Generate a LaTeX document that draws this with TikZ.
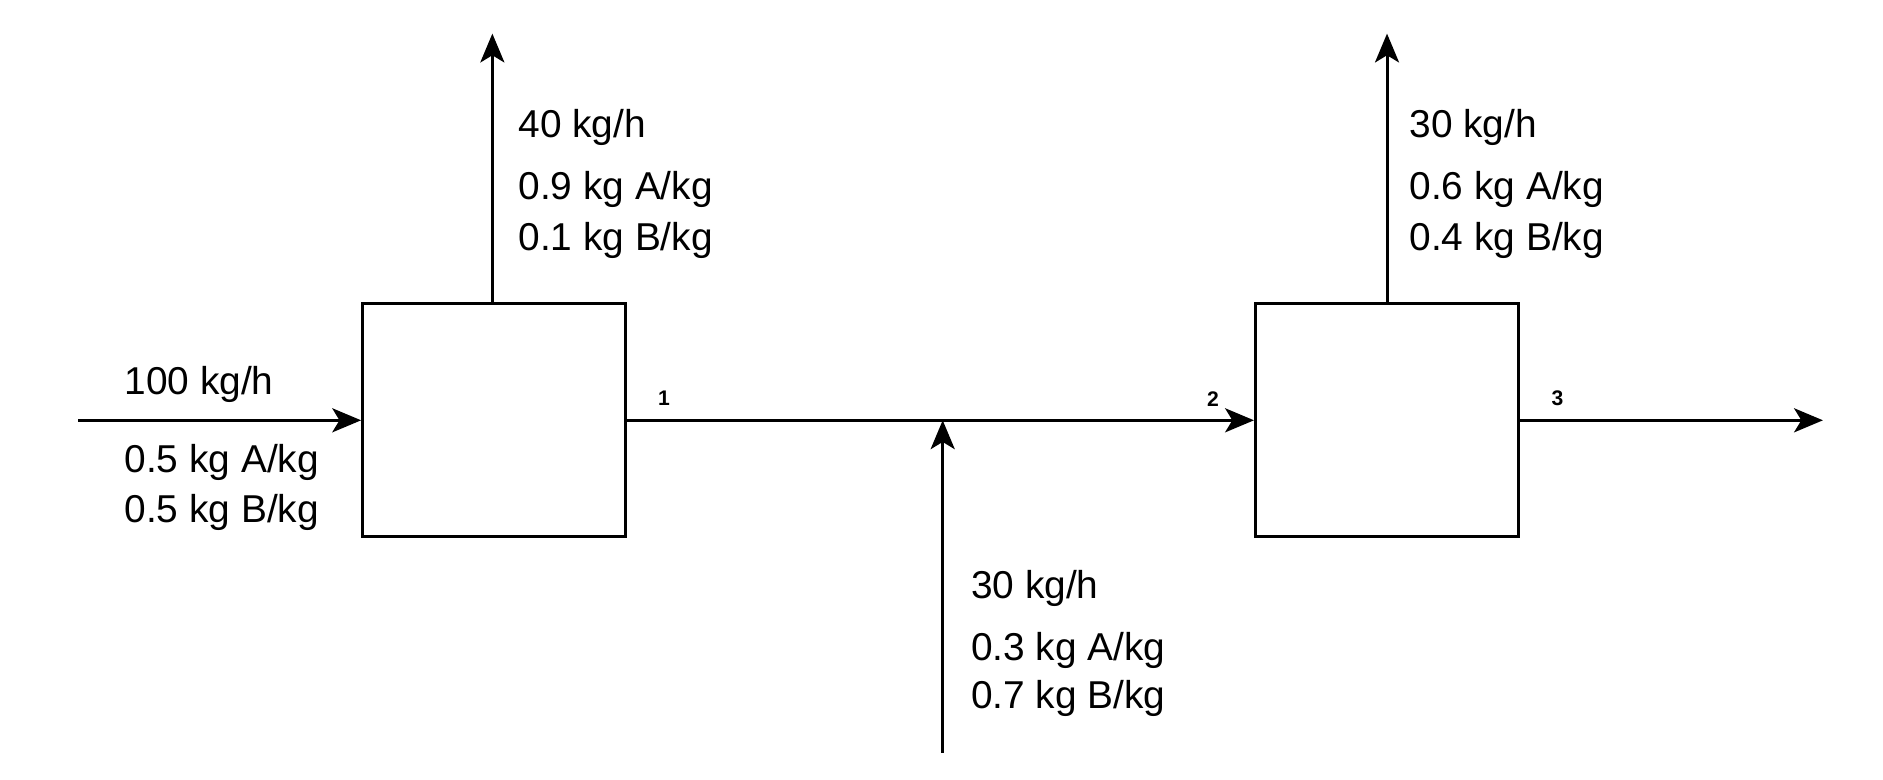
\documentclass[tikz,border=0pt]{standalone}
\usepackage{fontspec}
\setmainfont{Liberation Sans}
\usetikzlibrary{arrows.meta}
\begin{document}
\begin{tikzpicture}[x=0.01cm,y=-0.01cm,
  flow/.style={line width=0.7pt,-{Stealth[length=0.24cm,width=0.2cm,inset=0.06cm]}},
  unit/.style={draw,line width=0.7pt,minimum width=2.19cm,minimum height=1.94cm,inner sep=0pt},
  lbl/.style={anchor=west,inner sep=0pt,font=\fontsize{9.2}{11}\selectfont},
  num/.style={inner sep=0pt,font=\bfseries\fontsize{5}{6}\selectfont}]
\useasboundingbox (0,0) rectangle (1568,649);
\node[unit] (b1) at (411.5,350) {};
\node[unit] (b2) at (1155,350) {};
\coordinate (in) at (65,350);
\coordinate (out) at (1518,350);
\coordinate (top1) at (410,28);
\coordinate (top2) at (1155,28);
\coordinate (bot) at (785,627);
\coordinate (mix) at (785,350);
\draw[flow] (in) -- (b1.west);
\draw[flow] (b1.east) -- (b2.west);
\draw[flow] (b2.east) -- (out);
\draw[flow] (b1.north -| top1) -- (top1);
\draw[flow] (b2.north) -- (top2);
\draw[flow] (bot) -- (mix);
\node[lbl] (l1) at (103,320) {100 kg/h};
\node[lbl] (l2) at (103,385) {0.5 kg A/kg};
\node[lbl] (l3) at (103,427) {0.5 kg B/kg};
\node[lbl] (t1) at (431,106) {40 kg/h};
\node[lbl] (t2) at (431,158) {0.9 kg A/kg};
\node[lbl] (t3) at (431,200) {0.1 kg B/kg};
\node[lbl] (r1) at (1173,106) {30 kg/h};
\node[lbl] (r2) at (1173,158) {0.6 kg A/kg};
\node[lbl] (r3) at (1173,200) {0.4 kg B/kg};
\node[lbl] (m1) at (808,490) {30 kg/h};
\node[lbl] (m2) at (808,542) {0.3 kg A/kg};
\node[lbl] (m3) at (808,582) {0.7 kg B/kg};
\node[num] (n1) at (553,332) {1};
\node[num] (n2) at (1010,332) {2};
\node[num] (n3) at (1297,332) {3};
\end{tikzpicture}
\end{document}
